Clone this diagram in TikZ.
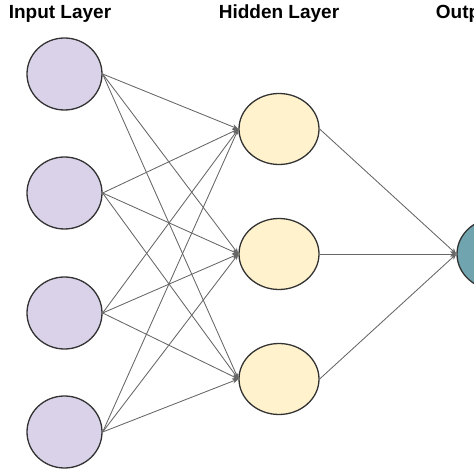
\documentclass[tikz,border=0pt]{standalone}
\usepackage{fontspec}
\setmainfont{Liberation Sans}
\usetikzlibrary{arrows.meta,shapes.geometric}

\definecolor{inputfill}{HTML}{DAD2E9}
\definecolor{hiddenfill}{HTML}{FFF2CC}
\definecolor{outputfill}{HTML}{70A4AE}
\definecolor{edgegray}{HTML}{666666}
\definecolor{bordergray}{HTML}{333333}

\tikzset{
	neuron/.style={ellipse, draw=bordergray, line width=1.3pt, inner sep=0pt},
	inneuron/.style={neuron, fill=inputfill, minimum width=75pt, minimum height=72pt},
	hidneuron/.style={neuron, fill=hiddenfill, minimum width=80pt, minimum height=71pt},
	outneuron/.style={neuron, fill=outputfill, minimum width=80pt, minimum height=72pt},
	synapse/.style={draw=edgegray, line width=0.85pt, -{Stealth[length=6pt,width=5pt]}},
	layerlabel/.style={anchor=base, font=\fontsize{19}{22}\selectfont\bfseries, inner sep=0pt}
}

\begin{document}
\begin{tikzpicture}[x=1pt,y=1pt]
	\useasboundingbox (0,0) rectangle (474,474);

	% layer titles
	\node[layerlabel] (intitle) at (60,455) {Input Layer};
	\node[layerlabel] (hidtitle) at (279,455) {Hidden Layer};
	\node[layerlabel] (outtitle) at (495,455) {Output Layer};

	% input layer
	\foreach \i/\y in {1/400,2/281,3/161,4/42}
		\node[inneuron] (in\i) at (64.5,\y) {};

	% hidden layer
	\foreach \j/\y in {1/345,2/220,3/95}
		\node[hidneuron] (hid\j) at (279,\y) {};

	% output layer
	\node[outneuron] (out) at (497,220) {};

	% connections
	\foreach \i in {1,...,4}
		\foreach \j in {1,2,3}
			\draw[synapse] (in\i.east) -- (hid\j.west);
	\foreach \j in {1,2,3}
		\draw[synapse] (hid\j.east) -- (out.west);

\end{tikzpicture}
\end{document}
